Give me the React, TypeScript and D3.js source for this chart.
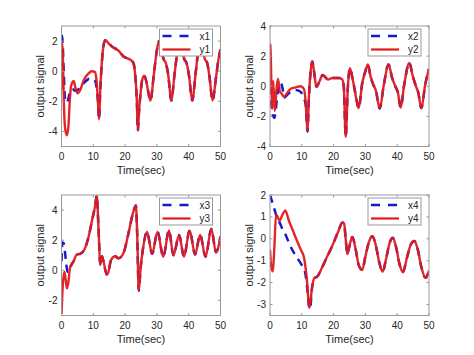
import React from "react";
import * as d3 from "d3";

// ---------- data ----------
const timeTicks = [0, 10, 20, 30, 40, 50];

// Panel 1
const y1T = [0, 0.15, 0.4, 0.8, 1.2, 1.7, 2.2, 2.6, 3.0, 3.8, 4.5, 5.1, 5.8, 7.0, 8.5, 9.5, 10.5, 11.0, 11.4, 11.8, 12.2, 12.8, 13.3, 13.8, 14.8, 15.8, 17.9, 19.5, 21.6, 22.6, 23.2, 23.7, 24.0, 24.4, 24.8, 25.4, 26.0, 26.7, 27.3, 28.0, 29.0, 30.0, 30.7, 31.4, 32.1, 32.8, 33.6, 34.5, 35.6, 36.6, 37.2, 37.9, 38.6, 39.3, 40.1, 41.1, 42.2, 43.1, 43.7, 44.4, 45.1, 45.8, 46.5, 47.5, 48.6, 49.3, 50];
const y1V = [-1.2, 1.9, 1.2, -2.5, -3.9, -4.25, -3.6, -2.0, -1.0, -0.65, -1.2, -1.47, -1.3, -0.6, -0.15, 0.0, -0.05, -0.6, -1.8, -3.2, -1.2, 0.9, 1.8, 2.05, 1.85, 1.65, 1.36, 0.98, 0.76, 0.55, -0.3, -2.0, -3.95, -2.6, -1.6, -0.55, -0.3, -0.7, -1.4, -1.95, -0.3, 1.4, 2.0, 1.4, 0.8, 0.55, -0.3, -1.95, -0.1, 1.5, 2.0, 1.4, 0.8, 0.55, -0.3, -1.95, -0.1, 1.5, 2.0, 1.4, 0.8, 0.55, -0.3, -1.95, -0.4, 0.7, 1.45];
const x1T = [0, 0.3, 0.7, 1.1, 1.6, 2.2, 2.8, 3.5, 4.3, 5.1, 6.0, 7.0, 8.0, 8.7, 9.5, 10.3, 10.9, 11.4];
const x1V = [2.4, 2.1, 0.0, -1.8, -2.1, -1.8, -1.25, -1.2, -1.3, -1.25, -1.0, -0.8, -0.6, -0.5, -0.5, -0.55, -0.9, -1.8];

// Panel 2
const y2T = [0, 0.15, 0.4, 0.7, 1.0, 1.5, 2.0, 2.5, 3.1, 3.7, 4.4, 5.4, 6.5, 8.1, 9.6, 10.7, 11.2, 11.8, 12.2, 12.7, 13.3, 13.9, 14.6, 15.4, 16.6, 17.4, 18.2, 19.6, 21.7, 22.7, 23.2, 23.8, 24.5, 25.1, 25.8, 26.6, 27.2, 27.9, 29.0, 30.0, 30.8, 31.6, 32.5, 33.3, 34.5, 35.8, 37.3, 38.4, 39.4, 40.2, 41.1, 42.2, 43.8, 44.9, 45.9, 46.6, 47.6, 48.8, 50];
const y2V = [0.0, 2.8, 0.5, -1.5, 0.35, -1.65, -0.3, 0.5, -0.35, -0.5, -0.7, -0.45, -0.17, -0.07, 0.0, -0.2, -1.0, -3.0, -0.9, 0.8, 1.65, 0.9, -0.05, 0.25, 0.75, 0.6, 0.45, 0.55, 0.55, 0.45, 0.0, -3.35, 0.0, 1.2, 0.67, -0.2, -0.9, -1.45, 0.2, 1.0, 1.45, 0.67, 0.1, -0.3, -1.48, 0.1, 1.45, 0.55, 0.0, -0.4, -1.42, 0.1, 1.55, 0.67, 0.0, -0.4, -1.45, 0.1, 1.15];
const x2T = [0, 0.5, 1.0, 1.4, 1.8, 2.3, 2.9, 3.4, 3.9, 4.5, 5.5, 6.5, 8.0, 9.5, 10.5, 11.2];
const x2V = [0.0, -1.3, -2.0, -2.1, -1.6, -0.6, 0.0, 0.25, -0.1, -0.75, -0.55, -0.38, -0.25, -0.35, -0.7, -1.2];

// Panel 3
const y3T = [0, 0.4, 0.9, 1.3, 1.7, 2.2, 2.7, 3.8, 4.8, 5.9, 7.0, 8.6, 9.6, 10.6, 11.1, 11.6, 12.2, 12.7, 13.3, 14.2, 14.7, 15.6, 16.9, 17.9, 19.5, 21.0, 22.6, 23.4, 23.8, 24.3, 24.9, 25.6, 26.9, 28.5, 30.2, 32.0, 33.8, 35.2, 37.0, 38.5, 40.3, 42.0, 43.6, 45.3, 47.1, 48.6, 50];
const y3V = [-2.9, -1.0, -0.1, -0.6, -1.2, -0.73, 0.2, 0.6, 1.05, 1.1, 1.3, 2.3, 3.3, 4.3, 4.95, 3.0, 0.38, 0.93, 0.5, -0.28, -0.15, 0.7, 0.93, 0.8, 1.15, 2.4, 3.9, 4.3, 2.4, -1.35, 0.2, 1.4, 2.55, 1.1, 2.55, 0.9, 2.65, 1.0, 2.35, 0.9, 2.65, 1.05, 2.35, 0.9, 2.75, 1.2, 2.25];
const x3T = [0, 0.3, 0.7, 1.1, 1.5, 1.9, 2.4, 3.0, 3.8, 4.8];
const x3V = [0.6, 1.85, 1.8, 1.2, 0.4, -0.1, -0.1, 0.3, 0.6, 1.05];

// Panel 4
const y4T = [0, 0.5, 0.9, 1.4, 1.9, 2.4, 3.0, 3.9, 4.8, 6.0, 7.0, 8.0, 9.6, 10.7, 11.5, 12.4, 13.2, 13.9, 14.9, 16.4, 18.0, 19.6, 21.5, 22.8, 23.3, 23.8, 24.3, 24.7, 25.9, 26.9, 27.9, 29.0, 30.0, 31.1, 32.2, 33.2, 34.4, 35.4, 36.6, 37.6, 38.6, 39.6, 40.8, 41.8, 43.0, 44.3, 45.4, 46.4, 47.7, 48.9, 50];
const y4V = [-0.5, -1.35, -1.48, -0.3, 1.1, 1.0, 0.83, 1.1, 1.3, 0.8, 0.45, 0.08, -0.47, -0.86, -1.7, -3.15, -2.25, -1.8, -1.72, -1.3, -0.8, -0.32, 0.35, 0.75, 0.7, 0.0, -0.7, -0.5, 0.08, -0.45, -1.2, -1.42, -0.8, -0.15, 0.12, -0.25, -1.1, -1.5, -0.85, -0.2, 0.05, -0.35, -1.2, -1.52, -0.9, -0.25, -0.1, -0.45, -1.35, -1.78, -1.45];
const x4T = [0, 0.7, 1.5, 2.0, 3.0, 4.0, 5.0, 6.0, 7.0, 8.0, 9.0, 10.0, 11.0, 11.6, 12.2, 12.6];
const x4V = [2.0, 1.67, 1.3, 1.05, 0.75, 0.42, 0.15, -0.2, -0.5, -0.75, -0.97, -1.2, -1.5, -2.1, -3.0, -3.2];

const p1YTicks = [-4, -2, 0, 2];
const p2YTicks = [-4, -2, 0, 2, 4];
const p3YTicks = [-2, 0, 2, 4];
const p4YTicks = [-3, -2, -1, 0, 1, 2];

const legendNames = [["x1", "y1"], ["x2", "y2"], ["x3", "y3"], ["x4", "y4"]];

// ---------- layout ----------
const W = 474;
const H = 355;
const PW = 159;
const PH = 120.5;
const lefts = [61.5, 270];
const tops = [26, 195];
const RED = "#e0191e";
const BLUE = "#1818cc";
const AX = "#999999";
const TXT = "#262626";
const FONT = "'Liberation Sans', Arial, Helvetica, sans-serif";

type Pt = [number, number];
const zip = (t: number[], v: number[]): Pt[] => t.map((tt, i) => [tt, v[i]] as Pt);

// blue series: early differing part, then coincides with red series
const joined = (xt: number[], xv: number[], yt: number[], yv: number[]): Pt[] => {
  const early = zip(xt, xv);
  const last = xt[xt.length - 1];
  const tail = zip(yt, yv).filter((p) => p[0] > last);
  return early.concat(tail);
};

const panels = [
  { red: zip(y1T, y1V), blue: joined(x1T, x1V, y1T, y1V), dom: [-5, 3], ticks: p1YTicks, col: 0, row: 0 },
  { red: zip(y2T, y2V), blue: joined(x2T, x2V, y2T, y2V), dom: [-4, 4], ticks: p2YTicks, col: 1, row: 0 },
  { red: zip(y3T, y3V), blue: joined(x3T, x3V, y3T, y3V), dom: [-3, 5], ticks: p3YTicks, col: 0, row: 1 },
  { red: zip(y4T, y4V), blue: joined(x4T, x4V, y4T, y4V), dom: [-3.5, 2], ticks: p4YTicks, col: 1, row: 1 },
];

function Panel({ p, idx }: { p: (typeof panels)[number]; idx: number }) {
  const L = lefts[p.col];
  const T = tops[p.row];
  const x = d3.scaleLinear().domain([0, 50]).range([0, PW]);
  const y = d3.scaleLinear().domain(p.dom).range([PH, 0]);
  const line = d3
    .line<Pt>()
    .x((d) => x(d[0]))
    .y((d) => y(d[1]))
    .curve(d3.curveMonotoneX);
  const clipId = `clip${idx}`;
  const tl = 2.5;
  const lgW = 53;
  const lgH = 27;
  const lgX = PW - 8 - lgW;
  const lgY = 3;
  const names = legendNames[idx];
  return (
    <g transform={`translate(${L},${T})`}>
      <defs>
        <clipPath id={clipId}>
          <rect x={0} y={0} width={PW} height={PH} />
        </clipPath>
      </defs>
      <rect x={0} y={0} width={PW} height={PH} fill="#fff" />
      <g clipPath={`url(#${clipId})`}>
        <path d={line(p.blue) || ""} fill="none" stroke={BLUE} strokeWidth={2.5} strokeDasharray="8,6" />
        <path d={line(p.red) || ""} fill="none" stroke={RED} strokeWidth={2.4} strokeOpacity={0.95} />
      </g>
      <rect x={0} y={0} width={PW} height={PH} fill="none" stroke={AX} strokeWidth={1} />
      {timeTicks.map((t) => (
        <g key={`xt${t}`}>
          <line x1={x(t)} x2={x(t)} y1={PH} y2={PH - tl} stroke={AX} />
          <line x1={x(t)} x2={x(t)} y1={0} y2={tl} stroke={AX} />
          <text x={x(t)} y={PH + 9.5} dy="0.35em" textAnchor="middle" fontSize={10} fill={TXT} fontFamily={FONT}>
            {t}
          </text>
        </g>
      ))}
      {p.ticks.map((v) => (
        <g key={`yt${v}`}>
          <line x1={0} x2={tl} y1={y(v)} y2={y(v)} stroke={AX} />
          <line x1={PW} x2={PW - tl} y1={y(v)} y2={y(v)} stroke={AX} />
          <text x={-4} y={y(v)} dy="0.35em" textAnchor="end" fontSize={10} fill={TXT} fontFamily={FONT}>
            {v}
          </text>
        </g>
      ))}
      <text x={PW / 2} y={PH + 23.5} dy="0.35em" textAnchor="middle" fontSize={11} fill={TXT} fontFamily={FONT}>
        Time(sec)
      </text>
      <text
        transform={`translate(${-21},${PH / 2}) rotate(-90)`}
        dy="0.35em"
        textAnchor="middle"
        fontSize={11}
        fill={TXT}
        fontFamily={FONT}
      >
        output signal
      </text>
      <g transform={`translate(${lgX},${lgY})`}>
        <rect x={0} y={0} width={lgW} height={lgH} fill="#fff" stroke={AX} strokeWidth={1} />
        <line x1={3} x2={31} y1={7} y2={7} stroke={BLUE} strokeWidth={2.5} strokeDasharray="9,8" />
        <line x1={3} x2={31} y1={20.5} y2={20.5} stroke={RED} strokeWidth={2.2} />
        <text x={40} y={7} dy="0.35em" fontSize={10} fill={TXT} fontFamily={FONT}>
          {names[0]}
        </text>
        <text x={40} y={20.5} dy="0.35em" fontSize={10} fill={TXT} fontFamily={FONT}>
          {names[1]}
        </text>
      </g>
    </g>
  );
}

export default function App() {
  return (
    <svg
      width={W}
      height={H}
      viewBox={`0 0 ${W} ${H}`}
      style={{ position: "absolute", left: 0, top: 0, background: "#fff" }}
    >
      <rect x={0} y={0} width={W} height={H} fill="#fff" />
      {panels.map((p, i) => (
        <Panel key={i} p={p} idx={i} />
      ))}
    </svg>
  );
}
